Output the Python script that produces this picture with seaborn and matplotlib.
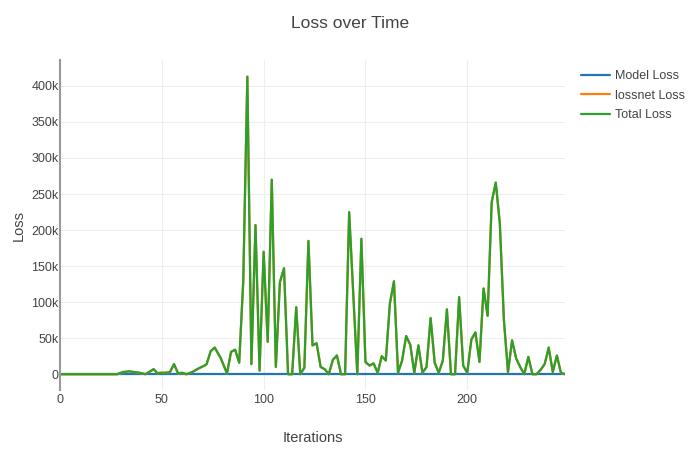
import numpy as np
import pandas as pd
import matplotlib
matplotlib.use("Agg")
import matplotlib.pyplot as plt
import matplotlib.ticker as mticker
import seaborn as sns

# values (loss in thousands)
iterations = [0, 28, 31, 34, 39, 42, 46, 48, 49, 52, 54, 56, 58, 60, 62, 65, 68, 71, 72, 74,
              76, 79, 82, 84, 86, 88, 90, 92, 94, 96, 98, 100, 102, 104, 106, 108, 110, 112,
              114, 116, 118, 120, 122, 124, 126, 128, 130, 132, 134, 136, 138, 140, 142, 146,
              148, 150, 152, 154, 156, 158, 160, 162, 164, 166, 168, 170, 172, 174, 176, 178,
              180, 182, 184, 186, 188, 190, 192, 194, 196, 198, 200, 202, 204, 206, 208, 210,
              212, 214, 216, 218, 220, 222, 224, 226, 228, 230, 232, 234, 236, 238, 240, 242,
              244, 246, 248]
total_loss_k = [0, 0, 3, 4, 2, 0, 7, 1, 2, 2, 3, 14, 1, 2, 0, 3, 8, 12, 14, 32,
                37, 22, 1, 31, 34, 16, 130, 413, 14, 207, 5, 170, 45, 270, 10, 128, 147, 0,
                0, 93, 0, 9, 185, 40, 43, 10, 7, 0, 20, 26, 0, 0, 225, 0,
                188, 17, 12, 15, 2, 25, 19, 98, 129, 2, 19, 53, 41, 2, 40, 2,
                10, 78, 16, 2, 19, 90, 0, 0, 107, 12, 2, 48, 58, 17, 119, 81,
                239, 266, 209, 75, 3, 47, 22, 10, 0, 24, 0, 0, 6, 14, 37, 3,
                26, 2, 0]
model_loss_k = 0.3  # model loss stays flat near zero

total = np.array(total_loss_k) * 1000.0
model = np.full(len(iterations), model_loss_k * 1000.0)
lossnet = total - model

df = pd.DataFrame({
    "Iterations": iterations * 3,
    "Loss": np.concatenate([model, lossnet, total]),
    "series": ["Model Loss"] * len(iterations) + ["lossnet Loss"] * len(iterations)
              + ["Total Loss"] * len(iterations),
})

sns.set_theme(style="white")
plt.rcParams['font.family'] = ['Liberation Sans', 'DejaVu Sans']
text_col = "#444444"

fig = plt.figure(figsize=(7, 4.5), dpi=100)
ax = fig.add_axes([60 / 700, 60 / 450, 505 / 700, 330 / 450])

palette = {"Model Loss": "#1f77b4", "lossnet Loss": "#ff7f0e", "Total Loss": "#2ca02c"}
sns.lineplot(data=df, x="Iterations", y="Loss", hue="series", palette=palette,
             linewidth=1.6, ax=ax, legend=True)

ax.set_xlim(0, 248)
ax.set_ylim(-22000, 436000)
ax.set_xticks([0, 50, 100, 150, 200])
ax.set_yticks(np.arange(0, 400001, 50000))
ax.yaxis.set_major_formatter(mticker.FuncFormatter(
    lambda v, p: "0" if v == 0 else f"{int(v / 1000)}k"))
ax.grid(True, color="#eeeeee", linewidth=0.8)
ax.set_axisbelow(True)
for s in ["top", "right", "bottom"]:
    ax.spines[s].set_visible(False)
ax.spines["left"].set_color("#9a9a9a")
ax.spines["left"].set_linewidth(1.5)
ax.tick_params(axis="both", length=0, labelsize=9, colors=text_col)
ax.tick_params(axis="y", pad=1)
ax.tick_params(axis="x", pad=3)

ax.set_xlabel("Iterations", fontsize=10.5, color=text_col, labelpad=18)
ax.set_ylabel("Loss", fontsize=10.5, color=text_col, labelpad=4)
fig.text(0.5, 1 - 24 / 450, "Loss over Time", ha="center", va="center",
         fontsize=12.5, color=text_col)

handles, labels = ax.get_legend_handles_labels()
ax.legend(handles, labels, loc="upper left", bbox_to_anchor=(576 / 700, 1 - 65 / 450),
          bbox_transform=fig.transFigure, frameon=False, fontsize=9,
          handlelength=2.3, handletextpad=0.4, labelspacing=0.62, borderaxespad=0,
          labelcolor=text_col)

fig.savefig("out.png", dpi=100)
